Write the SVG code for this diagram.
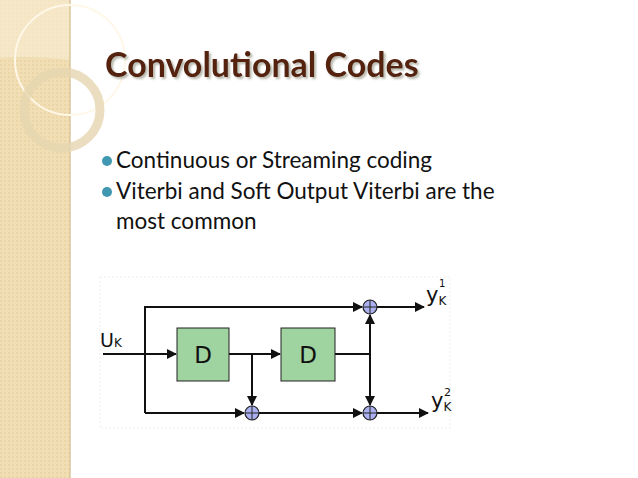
<svg xmlns="http://www.w3.org/2000/svg" width="638" height="478" viewBox="0 0 638 478">
<defs>
<style>
.t{font-family:Lato,"Liberation Sans",sans-serif;font-size:22.5px;fill:#111}
.w{stroke:#111;stroke-width:2;fill:none}
.d{fill:#9fd39f;stroke:#222;stroke-width:1}
.a{fill:#aab0f0;stroke:#222;stroke-width:1.2}
.l{font-family:"DejaVu Sans",sans-serif;fill:#111}
</style>
<filter id="sh"><feDropShadow dx="2" dy="2" stdDeviation="0.8" flood-color="#998" flood-opacity="0.7"/></filter>
<marker id="ar" viewBox="0 0 10 10" refX="9" refY="5" markerWidth="5" markerHeight="5" orient="auto"><path d="M0,0L10,5L0,10z" fill="#111"/></marker>
<pattern id="pt" width="4" height="4" patternUnits="userSpaceOnUse"><rect width="4" height="4" fill="#f1deb4"/><rect width="2" height="2" fill="#ead5a6"/></pattern>
</defs>
<rect width="638" height="478" fill="#fff"/>
<g id="strip">
<rect width="70" height="478" fill="url(#pt)"/>
<path d="M0,0H70V60Q35,55 0,58Z" fill="#f6ebcf" opacity="0.7"/>
<line x1="70" y1="0" x2="70" y2="478" stroke="#d8c79c" stroke-width="1.5"/>
<circle cx="70" cy="60" r="55" fill="none" stroke="#fff8e8" stroke-width="2"/>
<circle cx="62" cy="110" r="38" fill="none" stroke="#e6d6b0" stroke-width="9" opacity="0.8"/>
</g>
<g id="title"><text x="105" y="77" font-family="Lato,'Liberation Sans',sans-serif" font-weight="bold" font-size="34" fill="#55200f" filter="url(#sh)">Convolutional Codes</text></g>
<g id="bullets">
<circle cx="107" cy="161" r="5" fill="#3f97b0"/>
<text class="t" x="116" y="168">Continuous or Streaming coding</text>
<circle cx="107" cy="192" r="5" fill="#3f97b0"/>
<text class="t" x="116" y="199">Viterbi and Soft Output Viterbi are the</text>
<text class="t" x="116" y="229">most common</text>
</g>
<rect x="100" y="277" width="350" height="151" fill="#fff" stroke="#eee" stroke-dasharray="2 2"/>
<g id="connectors">
<path class="w" d="M145,413V307H362" marker-end="url(#ar)"/>
<path class="w" d="M103,354H176" marker-end="url(#ar)"/>
<path class="w" d="M229,354H280" marker-end="url(#ar)"/>
<path class="w" d="M252,354V405" marker-end="url(#ar)"/>
<path class="w" d="M145,413H244" marker-end="url(#ar)"/>
<path class="w" d="M259,413H362" marker-end="url(#ar)"/>
<path class="w" d="M335,354H370"/>
<path class="w" d="M370,354V315" marker-end="url(#ar)"/>
<path class="w" d="M370,354V405" marker-end="url(#ar)"/>
<path class="w" d="M377,307H424" marker-end="url(#ar)"/>
<path class="w" d="M377,413H428" marker-end="url(#ar)"/>
</g>
<g id="d1"><rect class="d" x="177" y="328" width="52" height="53"/><text class="l" x="203" y="363" font-size="23" text-anchor="middle">D</text></g>
<g id="d2"><rect class="d" x="281" y="328" width="54" height="53"/><text class="l" x="308" y="363" font-size="23" text-anchor="middle">D</text></g>
<g id="add1"><circle class="a" cx="370" cy="307" r="7"/><path d="M363,307h14M370,300v14" stroke="#222"/></g>
<g id="add2"><circle class="a" cx="252" cy="413" r="7"/><path d="M245,413h14M252,406v14" stroke="#222"/></g>
<g id="add3"><circle class="a" cx="370" cy="413" r="7"/><path d="M363,413h14M370,406v14" stroke="#222"/></g>
<g id="labels">
<text class="l" x="100" y="347" font-size="19">U<tspan font-size="12">K</tspan></text>
<text class="l" x="426" y="302" font-size="21">y<tspan font-size="12" dy="3">K</tspan></text>
<text class="l" x="439" y="287" font-size="10">1</text>
<text class="l" x="431" y="408" font-size="21">y<tspan font-size="12" dy="3">K</tspan></text>
<text class="l" x="444" y="396" font-size="11">2</text>
</g>
</svg>
